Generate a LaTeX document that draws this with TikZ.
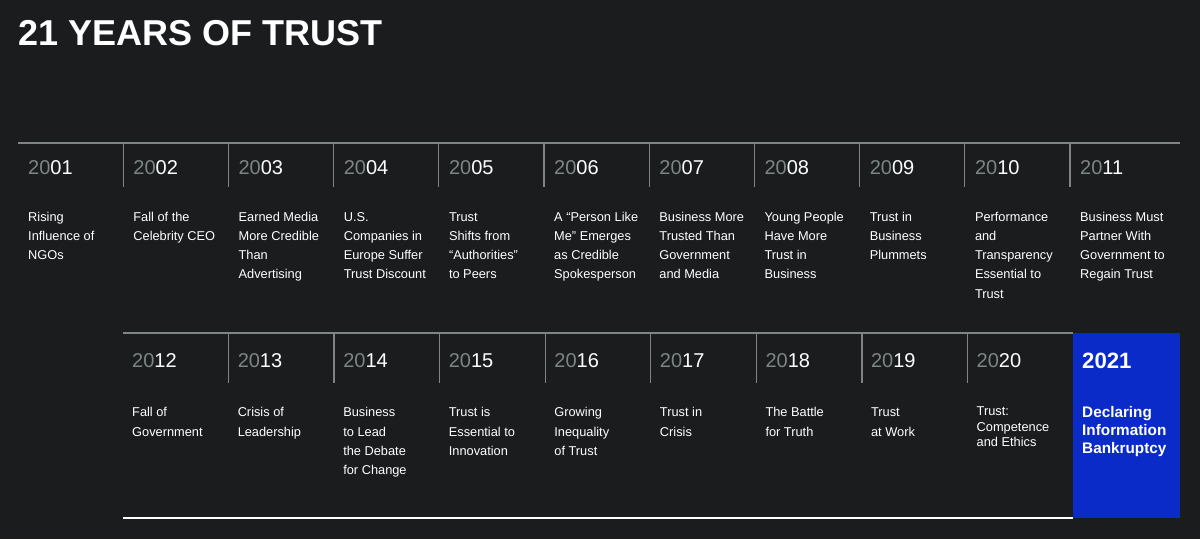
\documentclass[tikz,border=0pt]{standalone}
\usepackage{fontspec}
\setmainfont{Liberation Sans}
\definecolor{bg}{HTML}{1A1C1E}
\definecolor{linegray}{HTML}{7F8585}
\definecolor{yeargray}{HTML}{7D8585}
\definecolor{tblue}{HTML}{0A2BC8}
\newcommand{\toplines}[1]{\parbox[t]{100pt}{\raggedright #1}}
\begin{document}
\begin{tikzpicture}[x=1pt,y=-1pt,
  yr/.style={anchor=base west,inner sep=0pt,font=\fontsize{20}{24}\selectfont,text=white},
  desc/.style={anchor=base west,inner sep=0pt,font=\fontsize{12.8}{19.3}\selectfont,text=white},
  rule/.style={draw=linegray,line width=1.3pt}]
\fill[bg] (0,0) rectangle (1200,539);
\useasboundingbox (0,0) rectangle (1200,539);
\node[anchor=base west,inner sep=0pt,font=\bfseries\fontsize{36}{40}\selectfont,text=white] (title) at (18,45) {21 YEARS OF TRUST};
% top row
\coordinate (tl) at (18,143);
\coordinate (tr) at (1180,143);
\draw[rule] (tl) -- (tr);
\foreach \i/\yy/\txt in {
  0/01/{Rising\\Influence of\\NGOs},
  1/02/{Fall of the\\Celebrity CEO},
  2/03/{Earned Media\\More Credible\\Than\\Advertising},
  3/04/{U.S.\\Companies in\\Europe Suffer\\Trust Discount},
  4/05/{Trust\\Shifts from\\“Authorities”\\to Peers},
  5/06/{A “Person Like\\Me” Emerges\\as Credible\\Spokesperson},
  6/07/{Business More\\Trusted Than\\Government\\and Media},
  7/08/{Young People\\Have More\\Trust in\\Business},
  8/09/{Trust in\\Business\\Plummets},
  9/10/{Performance\\and\\Transparency\\Essential to\\Trust},
  10/11/{Business Must\\Partner With\\Government to\\Regain Trust}}{
  \pgfmathsetmacro\cx{18+105.2*\i}
  \node[yr] (y20\yy) at (\cx+10,174.3) {\textcolor{yeargray}{20}\yy};
  \node[desc] (d20\yy) at (\cx+10,221) {\toplines{\txt}};
  \ifnum\i>0 \draw[rule] (\cx,143) -- (\cx,187);\fi
}
% bottom row
\coordinate (bl) at (123,333);
\coordinate (br) at (1073,333);
\draw[rule] (bl) -- (br);
\foreach \i/\yy/\txt in {
  0/12/{Fall of\\Government},
  1/13/{Crisis of\\Leadership},
  2/14/{Business\\to Lead\\the Debate\\for Change},
  3/15/{Trust is\\Essential to\\Innovation},
  4/16/{Growing\\Inequality\\of Trust},
  5/17/{Trust in\\Crisis},
  6/18/{The Battle\\for Truth},
  7/19/{Trust\\at Work}}{
  \pgfmathsetmacro\cx{123+105.55*\i}
  \node[yr] (y20\yy) at (\cx+9,367) {\textcolor{yeargray}{20}\yy};
  \node[desc] (d20\yy) at (\cx+9,416.7) {\toplines{\txt}};
  \ifnum\i>0 \draw[rule] (\cx,333) -- (\cx,383);\fi
}
\draw[rule] (967.3,333) -- (967.3,383);
\node[yr] (y2020) at (976.5,367) {\textcolor{yeargray}{20}20};
\node[desc,font=\fontsize{12.8}{15.5}\selectfont] (d2020) at (976.5,415.7) {\toplines{Trust:\\Competence\\and Ethics}};
% 2021 highlight
\fill[tblue] (1073,333) rectangle (1179.5,518);
\node[anchor=base west,inner sep=0pt,font=\bfseries\fontsize{22.2}{26}\selectfont,text=white] (y2021) at (1082,368.3) {2021};
\node[anchor=base west,inner sep=0pt,font=\bfseries\fontsize{15.3}{18}\selectfont,text=white] (d2021) at (1082,417.7) {\toplines{Declaring\\Information\\Bankruptcy}};
% bottom rule
\coordinate (ul) at (123,518);
\coordinate (ur) at (1073,518);
\draw[draw=white,line width=1.3pt] (ul) -- (ur);
\end{tikzpicture}
\end{document}
